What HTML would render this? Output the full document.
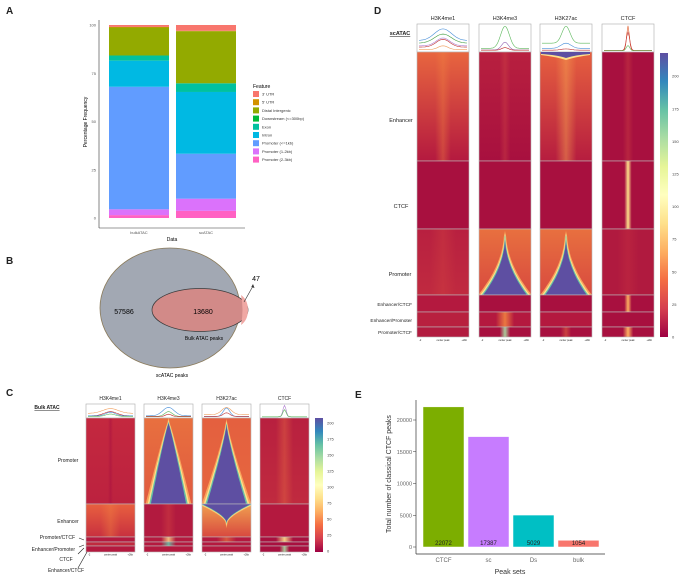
<!DOCTYPE html>
<html><head><meta charset="utf-8">
<style>
body{margin:0;background:#fff;}
svg{display:block;font-family:"Liberation Sans",sans-serif;}
</style></head>
<body>
<svg id="fig" width="685" height="577" viewBox="0 0 685 577" xmlns="http://www.w3.org/2000/svg">
<defs>
<linearGradient id="spec" x1="0" y1="1" x2="0" y2="0">
<stop offset="0" stop-color="#9e0142"/><stop offset="0.1" stop-color="#d53e4f"/><stop offset="0.2" stop-color="#f46d43"/><stop offset="0.3" stop-color="#fdae61"/><stop offset="0.4" stop-color="#fee08b"/><stop offset="0.5" stop-color="#ffffbf"/><stop offset="0.6" stop-color="#e6f598"/><stop offset="0.7" stop-color="#abdda4"/><stop offset="0.8" stop-color="#66c2a5"/><stop offset="0.9" stop-color="#3288bd"/><stop offset="1" stop-color="#5e4fa2"/>
</linearGradient>
</defs>
<g font-weight="bold" font-size="10" fill="#222">
<text x="6" y="14">A</text><text x="6" y="264">B</text><text x="6" y="396">C</text><text x="374" y="14">D</text><text x="355" y="398">E</text>
</g>
<g>
<ellipse cx="170" cy="308" rx="70" ry="60" fill="#a2a8b3" stroke="#8a7a5a" stroke-width="0.8"/>
<ellipse cx="200" cy="310" rx="48" ry="21.5" fill="#d28a88" stroke="#3a3a3a" stroke-width="0.7"/>
<path d="M241 295 Q244 310 241 325 Q248 320 248 310 Q248 300 241 295Z" fill="#f0a8a4"/>
<line x1="244" y1="302" x2="253" y2="286" stroke="#333" stroke-width="0.6"/>
<polygon points="253,284 254.5,288 251.3,287" fill="#333"/>
<text x="124" y="314" font-size="7" text-anchor="middle">57586</text>
<text x="203" y="314" font-size="7" text-anchor="middle">13680</text>
<text x="256" y="281" font-size="7" text-anchor="middle">47</text>
<text x="204" y="340" font-size="5" text-anchor="middle">Bulk ATAC peaks</text>
<text x="172" y="377" font-size="5" text-anchor="middle">scATAC peaks</text>
</g>
<g id="panelA"></g>
<g id="panelE"></g>
<g id="panelD"></g>
<g id="panelC"></g>
</svg>
<script>
// ---- Panel A data ----
const aGroups = ["bulkATAC", "scATAC"];
const aFeatures = ["Promoter (2-3kb)", "Promoter (1-2kb)", "Promoter (<=1kb)", "Intron", "Exon", "Downstream (<=300bp)", "Distal Intergenic", "5' UTR", "3' UTR"];
const aBulk = [1.5, 3, 63.5, 13.5, 2.7, 0, 14.5, 0.3, 1];
const aSc = [3.7, 6.3, 23.3, 32, 4.5, 0, 27, 0.2, 3];
const aColors = ["#FF61C3", "#DB72FB", "#619CFF", "#00B9E3", "#00C19F", "#00BA38", "#93AA00", "#D39200", "#F8766D"];
const aTicks = [0, 25, 50, 75, 100];
const aLegend = ["3' UTR", "5' UTR", "Distal Intergenic", "Downstream (<=300bp)", "Exon", "Intron", "Promoter (<=1kb)", "Promoter (1-2kb)", "Promoter (2-3kb)"];
// ---- Panel E data ----
const eCats = ["CTCF", "sc", "Ds", "bulk"];
const eVals = [22072, 17387, 5029, 1054];
const eColors = ["#7CAE00", "#C77CFF", "#00BFC4", "#F8766D"];
const eTicks = [0, 5000, 10000, 15000, 20000];

const NS = "http://www.w3.org/2000/svg";
function mk(parent, tag, attrs, text) {
  const e = document.createElementNS(NS, tag);
  for (const k in attrs) e.setAttribute(k, attrs[k]);
  if (text !== undefined) e.textContent = text;
  parent.appendChild(e);
  return e;
}

// Panel A
(function () {
  const g = document.getElementById("panelA");
  const y0 = 218, y100 = 25;
  const yA = v => y0 - (y0 - y100) * v / 100;
  const bx = [109, 176], bw = 60;
  mk(g, "line", {x1: 99, y1: 20, x2: 99, y2: 228, stroke: "#333", "stroke-width": 0.6});
  mk(g, "line", {x1: 99, y1: 228, x2: 245, y2: 228, stroke: "#333", "stroke-width": 0.6});
  aTicks.forEach(t => {
    const tl = mk(g, "text", {x: 96, y: yA(t) + 1.5, "font-size": 4, "text-anchor": "end", fill: "#555"}, t);
    
    
  });
  [aBulk, aSc].forEach((series, i) => {
    let cum = 0;
    series.forEach((v, j) => {
      if (v <= 0) return;
      const r = mk(g, "rect", {x: bx[i], y: yA(cum + v), width: bw, height: yA(cum) - yA(cum + v), fill: aColors[j]});
      
      
      cum += v;
    });
    const xl = mk(g, "text", {x: bx[i] + bw / 2, y: 234, "font-size": 4, "text-anchor": "middle", fill: "#555"}, aGroups[i]);
    
    
  });
  const xt = mk(g, "text", {x: 172, y: 241, "font-size": 5, "text-anchor": "middle"}, "Data");
  
  
  const yt = mk(g, "text", {x: 87, y: 122, "font-size": 5, "text-anchor": "middle", transform: "rotate(-90 87 122)"}, "Percentage Frequency");
  
  
  const lt = mk(g, "text", {x: 253, y: 88, "font-size": 5}, "Feature");
  
  
  aLegend.forEach((name, k) => {
    const y = 91 + k * 8.2;
    const b = mk(g, "rect", {x: 253, y: y, width: 6, height: 6, fill: aColors[8 - k]});
    
    
    const t = mk(g, "text", {x: 262, y: y + 4.5, "font-size": 4, fill: "#333"}, name);
    
    
  });
})();

// Panel E
(function () {
  const g = document.getElementById("panelE");
  const y0 = 547, yScale = 127 / 20000;
  const yE = v => y0 - v * yScale;
  mk(g, "line", {x1: 416, y1: 400, x2: 416, y2: 554, stroke: "#333", "stroke-width": 0.7});
  mk(g, "line", {x1: 416, y1: 554, x2: 605, y2: 554, stroke: "#333", "stroke-width": 0.7});
  eTicks.forEach(t => {
    mk(g, "line", {x1: 413, y1: yE(t), x2: 416, y2: yE(t), stroke: "#333", "stroke-width": 0.5});
    const tl = mk(g, "text", {x: 412, y: yE(t) + 2, "font-size": 5.5, "text-anchor": "end", fill: "#666"}, t);
    
    
  });
  eVals.forEach((v, i) => {
    const x = 423 + i * 45;
    const r = mk(g, "rect", {x: x, y: yE(v), width: 41, height: y0 - yE(v), fill: eColors[i], stroke: "#fff", "stroke-width": 0.5});
    
    
    const vl = mk(g, "text", {x: x + 20.5, y: 545, "font-size": 6, "text-anchor": "middle", fill: "#222"}, v);
    
    
    const xl = mk(g, "text", {x: x + 20.5, y: 562, "font-size": 6, "text-anchor": "middle", fill: "#666"}, eCats[i]);
    
    
  });
  const xt = mk(g, "text", {x: 510, y: 574, "font-size": 7, "text-anchor": "middle", fill: "#333"}, "Peak sets");
  
  
  const yt = mk(g, "text", {x: 391, y: 474, "font-size": 7, "text-anchor": "middle", fill: "#333", transform: "rotate(-90 391 474)"}, "Total number of classical CTCF peaks");
  
  
})();

// Heatmap helpers
let gid = 0;
function conePath(x, y, w, h, c, scale, extra) {
  // c: {apex, half, up, p}
  const cx = x + w / 2;
  const N = 24;
  const pts = [];
  for (let i = 0; i <= N; i++) {
    const t = i / N; // 0 apex .. 1 base
    const frac = c.apex + (1 - c.apex) * t;
    const yy = c.up ? y + h * frac : y + h * (1 - frac);
    const hw = Math.min(w / 2, w * c.half * Math.pow(t, c.p || 1.5) * scale + extra * (0.3 + t));
    pts.push([cx - hw, yy, cx + hw]);
  }
  const apexY = pts[0][1] - (c.up ? extra * 1.5 : -extra * 1.5);
  let d = `M${cx} ${apexY}`;
  pts.forEach(p => d += `L${p[0].toFixed(1)} ${p[1].toFixed(1)}`);
  for (let i = pts.length - 1; i >= 0; i--) d += `L${pts[i][2].toFixed(1)} ${pts[i][1].toFixed(1)}`;
  return d + "Z";
}
function block(g, x, y, w, h, s) {
  const defs = document.querySelector("defs");
  const id = "hg" + (gid++);
  const lg = mk(defs, "linearGradient", {id: id, x1: 0, y1: 0, x2: 0, y2: 1});
  mk(lg, "stop", {offset: 0, "stop-color": s.top});
  mk(lg, "stop", {offset: 1, "stop-color": s.bot || s.top});
  const r = mk(g, "rect", {x: x, y: y, width: w, height: h, fill: "url(#" + id + ")"});
  
  
  if (s.stripe) {
    const id2 = "hs" + (gid++);
    const sg = mk(defs, "linearGradient", {id: id2, x1: 0, y1: 0, x2: 1, y2: 0});
    mk(sg, "stop", {offset: 0, "stop-color": s.stripe, "stop-opacity": 0});
    mk(sg, "stop", {offset: 0.5, "stop-color": s.stripe, "stop-opacity": s.so || 0.6});
    mk(sg, "stop", {offset: 1, "stop-color": s.stripe, "stop-opacity": 0});
    const sw = w * (s.sw || 0.3);
    mk(g, "rect", {x: x + w / 2 - sw / 2, y: y, width: sw, height: h, fill: "url(#" + id2 + ")"});
  }
  if (s.cone) {
    const c = s.cone;
    mk(g, "path", {d: conePath(x, y, w, h, c, 1, 4), fill: "#fdae61", opacity: 0.85});
    mk(g, "path", {d: conePath(x, y, w, h, c, 1, 2.5), fill: "#fee08b"});
    mk(g, "path", {d: conePath(x, y, w, h, c, 1, 1.2), fill: "#66c2a5"});
    mk(g, "path", {d: conePath(x, y, w, h, c, 1, 0), fill: "#5e4fa2"});
  }
  mk(g, "rect", {x: x, y: y, width: w, height: h, fill: "none", stroke: "#bbb", "stroke-width": 0.6});
}
function profile(g, x, y, w, h, curves) {
  const b = mk(g, "rect", {x: x, y: y, width: w, height: h, fill: "#fff", stroke: "#aaa", "stroke-width": 0.6});
  
  
  curves.forEach(c => {
    let d = "";
    for (let i = 0; i <= 40; i++) {
      const t = i / 40, xx = x + 2 + t * (w - 4);
      const z = (t - 0.5) / c[3];
      const v = c[1] + c[2] * Math.exp(-z * z);
      d += (i ? "L" : "M") + xx.toFixed(1) + " " + (y + h - 1 - v * (h - 2)).toFixed(1);
    }
    mk(g, "path", {d: d, fill: "none", stroke: c[0], "stroke-width": 0.6});
  });
}
function colorbar(g, x, y, w, h, ticks, y0, step) {
  const r = mk(g, "rect", {x: x, y: y, width: w, height: h, fill: "url(#spec)"});
  
  
  ticks.forEach((t, i) => {
    const tl = mk(g, "text", {x: x + w + 4, y: y0 - i * step + 1.5, "font-size": 4, fill: "#444"}, t);
    
    
  });
}
function txt(g, x, y, s, size, anchor, name, bold) {
  const t = mk(g, "text", {x: x, y: y, "font-size": size, "text-anchor": anchor || "start", fill: "#222", "font-weight": bold ? "bold" : "normal"}, s);
  
  
  return t;
}
const D = "#a8103f", D2 = "#b4193f";
const cbTicks = [0, 25, 50, 75, 100, 125, 150, 175, 200];

// Panel D
(function () {
  const g = document.getElementById("panelD");
  const cols = [417, 479, 540, 602], w = 52;
  const titles = ["H3K4me1", "H3K4me3", "H3K27ac", "CTCF"];
  const rows = [52, 161, 229, 295, 312, 327, 337];
  const spec = [
    [{top: "#e8663f", bot: D2, stripe: "#f08040", sw: 0.3, so: 0.4}, {top: D}, {top: "#b82040", bot: "#c02a40", stripe: "#d04040", sw: 0.5, so: 0.4}, {top: D2}, {top: "#b8203f"}, {top: "#b21b3f"}],
    [{top: "#b8203f", bot: D, stripe: "#d04545", sw: 0.2, so: 0.4}, {top: D}, {top: "#e8703f", bot: "#d84a3f", cone: {apex: 0.12, half: 0.42, up: true, p: 2}}, {top: D}, {top: D2, stripe: "#f89040", sw: 0.35, so: 0.8}, {top: D, stripe: "#abdda4", sw: 0.2, so: 0.9}],
    [{top: "#e6603f", bot: "#b61d3f", stripe: "#f5a050", sw: 0.4, so: 0.5}, {top: D}, {top: "#e8703f", bot: "#d84a3f", cone: {apex: 0.12, half: 0.4, up: true, p: 2}}, {top: D}, {top: D2}, {top: D, stripe: "#e06040", sw: 0.2, so: 0.6}],
    [{top: D, stripe: "#c83a40", sw: 0.2, so: 0.5}, {top: "#a8103f", stripe: "#fee08b", sw: 0.14, so: 1}, {top: "#b01a3f", stripe: "#c83040", sw: 0.4, so: 0.4}, {top: D, stripe: "#fdae61", sw: 0.14, so: 1}, {top: D}, {top: D, stripe: "#fdae61", sw: 0.2, so: 1}]
  ];
  const prof = [
    [["#4a90d9", 0.4, 0.45, 0.25], ["#3a9a3a", 0.3, 0.35, 0.25], ["#b080d0", 0.2, 0.3, 0.2], ["#c03030", 0.15, 0.3, 0.2], ["#f0a060", 0.05, 0.15, 0.15]],
    [["#5cb85c", 0.1, 0.85, 0.13], ["#9060b0", 0.04, 0.3, 0.1], ["#c03030", 0.03, 0.1, 0.1]],
    [["#5cb85c", 0.3, 0.65, 0.12], ["#4a90d9", 0.1, 0.2, 0.15], ["#c03030", 0.03, 0.05, 0.15]],
    [["#e06030", 0.02, 0.95, 0.04], ["#c03030", 0.02, 0.7, 0.05], ["#5cb85c", 0.01, 0.2, 0.05]]
  ];
  // blue band at top of H3K27ac enhancer
  cols.forEach((x, c) => {
    txt(g, x + w / 2, 20, titles[c], 5.5, "middle", "d-column-title");
    profile(g, x, 24, w, 28, prof[c]);
    for (let r = 0; r < 6; r++) block(g, x, rows[r], w, rows[r + 1] - rows[r], spec[c][r]);
    txt(g, x + 2, 341, "-2", 2.5, "start", "d-x-tick");
    txt(g, x + w / 2, 341, "center peak", 2.5, "middle", "d-x-tick");
    txt(g, x + w - 2, 341, "+2kb", 2.5, "end", "d-x-tick");
  });
  mk(g, "path", {d: "M541 52 L590 52 L590 55 Q575 57 566 60 Q557 57 541 55Z", fill: "#fee08b"});
  mk(g, "path", {d: "M541 52 L590 52 L590 54 Q575 55 566 58 Q557 55 541 54Z", fill: "#5e4fa2"});
  const st = txt(g, 400, 35, "scATAC", 5.5, "middle", "d-row-group-label", true);
  st.setAttribute("text-decoration", "underline");
  txt(g, 401, 122, "Enhancer", 5.5, "middle", "d-row-label-enhancer");
  txt(g, 401, 208, "CTCF", 5.5, "middle", "d-row-label-ctcf");
  txt(g, 400, 276, "Promoter", 5.5, "middle", "d-row-label-promoter");
  txt(g, 412, 306, "Enhancer/CTCF", 4.8, "end", "d-row-label-enhancer-ctcf");
  txt(g, 412, 322, "Enhancer/Promoter", 4.8, "end", "d-row-label-enhancer-promoter");
  txt(g, 412, 334, "Promoter/CTCF", 4.8, "end", "d-row-label-promoter-ctcf");
  colorbar(g, 660, 53, 8, 284, cbTicks, 337, 32.6);
})();

// Panel C
(function () {
  const g = document.getElementById("panelC");
  const cols = [86, 144, 202, 260], w = 49;
  const titles = ["H3K4me1", "H3K4me3", "H3K27ac", "CTCF"];
  const rows = [418, 504, 537, 542, 546, 552];
  const spec = [
    [{top: "#c4283f", bot: "#bc223f", stripe: "#a81040", sw: 0.1, so: 0.5}, {top: "#e8603f", bot: "#c8303f", stripe: "#f08040", sw: 0.4, so: 0.4}, {top: D2}, {top: "#c02a3f"}, {top: D2}],
    [{top: "#e8703f", bot: "#e05a3f", cone: {apex: 0.06, half: 0.36, up: true, p: 0.9}}, {top: "#b21a3f", stripe: "#d04040", sw: 0.3, so: 0.5}, {top: D2, stripe: "#fee08b", sw: 0.3, so: 0.8}, {top: D2, stripe: "#66c2a5", sw: 0.3, so: 0.9}, {top: D2}],
    [{top: "#e4603f", bot: "#e6663f", cone: {apex: 0.08, half: 0.4, up: true, p: 1.2}}, {top: "#f0a050", bot: "#d8483f", cone: {apex: 0.45, half: 0.5, up: false, p: 1.6}}, {top: D2, stripe: "#f08040", sw: 0.4, so: 0.6}, {top: D2}, {top: D2}],
    [{top: "#b8203f", bot: "#c02a3f", stripe: "#e06040", sw: 0.35, so: 0.5}, {top: D2}, {top: D, stripe: "#fee08b", sw: 0.35, so: 0.9}, {top: D}, {top: D, stripe: "#abdda4", sw: 0.2, so: 0.9}]
  ];
  const prof = [
    [["#f0a060", 0.3, 0.4, 0.25], ["#c03030", 0.1, 0.35, 0.2], ["#4a90d9", 0.1, 0.3, 0.15], ["#5cb85c", 0.05, 0.2, 0.15]],
    [["#4a90d9", 0.1, 0.7, 0.18], ["#5cb85c", 0.05, 0.4, 0.12], ["#c03030", 0.03, 0.2, 0.1]],
    [["#f0a060", 0.2, 0.6, 0.15], ["#4a90d9", 0.05, 0.7, 0.1], ["#c03030", 0.05, 0.3, 0.1]],
    [["#b080d0", 0.02, 0.95, 0.05], ["#5cb85c", 0.02, 0.6, 0.05]]
  ];
  cols.forEach((x, c) => {
    txt(g, x + w / 2, 400, titles[c], 5, "middle", "c-column-title");
    profile(g, x, 404, w, 14, prof[c]);
    for (let r = 0; r < 5; r++) block(g, x, rows[r], w, rows[r + 1] - rows[r], spec[c][r]);
    txt(g, x + 2, 555.5, "-2", 2.5, "start", "c-x-tick");
    txt(g, x + w / 2, 555.5, "center peak", 2.5, "middle", "c-x-tick");
    txt(g, x + w - 2, 555.5, "+2kb", 2.5, "end", "c-x-tick");
  });
  const bt = txt(g, 47, 409, "Bulk ATAC", 5, "middle", "c-row-group-label", true);
  bt.setAttribute("text-decoration", "underline");
  txt(g, 68, 462, "Promoter", 5, "middle", "c-row-label-promoter");
  txt(g, 68, 523, "Enhancer", 5, "middle", "c-row-label-enhancer");
  txt(g, 75, 539, "Promoter/CTCF", 5, "end", "c-row-label-promoter-ctcf");
  txt(g, 75, 551, "Enhancer/Promoter", 5, "end", "c-row-label-enhancer-promoter");
  txt(g, 66, 561, "CTCF", 5, "middle", "c-row-label-ctcf");
  txt(g, 66, 572, "Enhancer/CTCF", 5, "middle", "c-row-label-enhancer-ctcf");
  [[79, 538, 84, 540], [79, 547, 84, 545], [78, 554, 84, 548], [78, 568, 87, 552]].forEach(a => {
    const l = mk(g, "line", {x1: a[0], y1: a[1], x2: a[2], y2: a[3], stroke: "#222", "stroke-width": 0.6});
    
    
  });
  colorbar(g, 315, 418, 8, 134, cbTicks, 551, 16);
})();
</script>
</body></html>
